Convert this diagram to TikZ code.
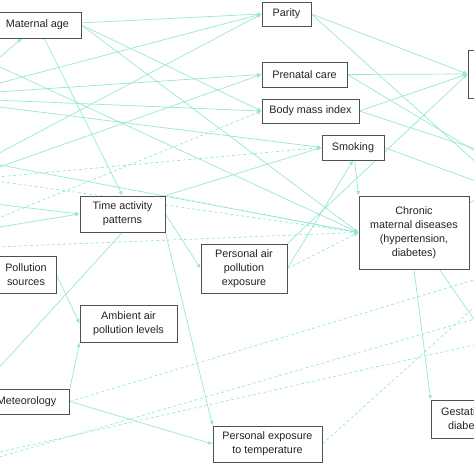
\documentclass[tikz,border=0pt]{standalone}
\usepackage{fontspec}
\setmainfont{Liberation Sans}
\usetikzlibrary{arrows.meta,backgrounds}
\definecolor{edgecol}{RGB}{150,230,216}
\definecolor{boxline}{RGB}{80,80,80}
\definecolor{boxtext}{RGB}{35,35,35}

\begin{document}
\begin{tikzpicture}[
  x=1pt,y=-1pt,
  box/.style={draw=boxline,line width=0.8pt,fill=white,text=boxtext,align=center,inner sep=0pt,font=\fontsize{10.8}{14}\selectfont},
  arrow/.style={-{Latex[length=4.5pt,width=4pt]},draw=edgecol,line width=0.7pt},
  dasharrow/.style={arrow,dash pattern=on 3pt off 2.5pt}
]
\useasboundingbox (0,0) rectangle (474,474);
\clip (0,0) rectangle (474,474);

% boxes
\node[box,minimum width=87pt,minimum height=26pt] (matage) at (37.5,25) {Maternal age};
\node[box,minimum width=49pt,minimum height=24pt] (parity) at (286.5,14) {Parity};
\node[box,minimum width=85pt,minimum height=25pt] (prenatal) at (304.5,74.5) {Prenatal care};
\node[box,minimum width=97pt,minimum height=24pt] (bmi) at (310.5,111) {Body mass index};
\node[box,minimum width=62pt,minimum height=25pt] (smoking) at (353,147.5) {Smoking};
\node[box,minimum width=60pt,minimum height=48pt] (outcome) at (498,74) {};
\node[box,minimum width=85pt,minimum height=36pt] (activity) at (122.5,214) {Time activity\\patterns};
\node[box,minimum width=110pt,minimum height=73pt] (chronic) at (414,232.5) {Chronic\\maternal diseases\\(hypertension,\\diabetes)};
\node[box,minimum width=86pt,minimum height=49pt] (persair) at (244,268.5) {Personal air\\pollution\\exposure};
\node[box,minimum width=60pt,minimum height=37pt] (sources) at (26,274.5) {Pollution\\sources};
\node[box,minimum width=97pt,minimum height=37pt] (ambient) at (128.5,323.5) {Ambient air\\pollution levels};
\node[box,minimum width=86pt,minimum height=25pt] (meteo) at (26.5,401.5) {Meteorology};
\node[box,minimum width=109pt,minimum height=36pt] (perstemp) at (267.5,444) {Personal exposure\\to temperature};
\node[box,minimum width=75pt,minimum height=38pt] (gestdiab) at (468.5,419) {Gestational\\diabetes};

% ends outside the frame
\coordinate (l1) at (-80,125);
\coordinate (l2) at (-80,104);
\coordinate (l3) at (-80,97);
\coordinate (l4) at (-80,195);
\coordinate (l5) at (-80,150);
\coordinate (l6) at (-80,30);
\coordinate (l7) at (-80,454);
\coordinate (l8) at (-80,240);
\coordinate (l9) at (-80,250);
\coordinate (l10) at (-80,184);
\coordinate (l11) at (-80,170);
\coordinate (l12) at (-80,480);
\coordinate (l13) at (-80,470);
\coordinate (r1) at (540,220);
\coordinate (r2) at (540,190);
\coordinate (r3) at (540,170);
\coordinate (r4) at (540,205);
\coordinate (r5) at (540,415);
\coordinate (r6) at (540,165);
\coordinate (r7) at (540,260);
\coordinate (r8) at (540,300);
\coordinate (r9) at (540,330);
\coordinate (r10) at (560,230);

\begin{scope}[on background layer]
% solid links
\draw[arrow] (matage) -- (parity.west);
\draw[arrow] (matage.east) -- (bmi.west);
\draw[arrow] (matage) -- (activity.north);
\draw[arrow] (matage.east) -- (chronic.west);
\draw[arrow] (l1) -- (matage);
\draw[arrow] (l2) -- (parity.west);
\draw[arrow] (l3) -- (prenatal.west);
\draw[arrow] (l3) -- (bmi.west);
\draw[arrow] (l3) -- (smoking.west);
\draw[arrow] (l4) -- (parity.west);
\draw[arrow] (l4) -- (prenatal.west);
\draw[arrow] (l4) -- (activity.west);
\draw[arrow] (l8) -- (activity.west);
\draw[arrow] (l5) -- (chronic.west);
\draw[arrow] (l6) -- (chronic.west);
\draw[arrow] (parity.east) -- (outcome.west);
\draw[arrow] (parity.east) -- (r1);
\draw[arrow] (prenatal.east) -- (outcome.west);
\draw[arrow] (prenatal.east) -- (r2);
\draw[arrow] (bmi.east) -- (outcome.west);
\draw[arrow] (bmi.east) -- (r3);
\draw[arrow] (smoking.east) -- (r4);
\draw[arrow] (smoking) -- (chronic.north west);
\draw[arrow] (persair.north east) -- (outcome.west);
\draw[arrow] (persair.east) -- (smoking.south);
\draw[arrow] (activity.north east) -- (smoking.west);
\draw[arrow] (activity.east) -- (persair.west);
\draw[arrow] (activity.south east) -- (perstemp.north west);
\draw[arrow] (activity.south) -- (l7);
\draw[arrow] (sources.east) -- (ambient.west);
\draw[arrow] (meteo.north east) -- (ambient.south west);
\draw[arrow] (meteo.east) -- (perstemp.west);
\draw[arrow] (chronic.south) -- (gestdiab.north west);
\draw[arrow] (chronic) -- (r5);
\draw[arrow] (chronic) -- (r6);
% dashed links
\draw[dasharrow] (l9) -- (chronic.west);
\draw[dasharrow] (l9) -- (bmi.west);
\draw[dasharrow] (l10) -- (smoking.west);
\draw[dasharrow] (l11) -- (chronic.west);
\draw[dasharrow] (activity.north east) -- (chronic.west);
\draw[dasharrow] (persair.east) -- (chronic.west);
\draw[dasharrow] (meteo.east) -- (r7);
\draw[dasharrow] (l12) -- (r8);
\draw[dasharrow] (l13) -- (r9);
\draw[dasharrow] (perstemp.east) -- (r10);
\end{scope}
\end{tikzpicture}
\end{document}
